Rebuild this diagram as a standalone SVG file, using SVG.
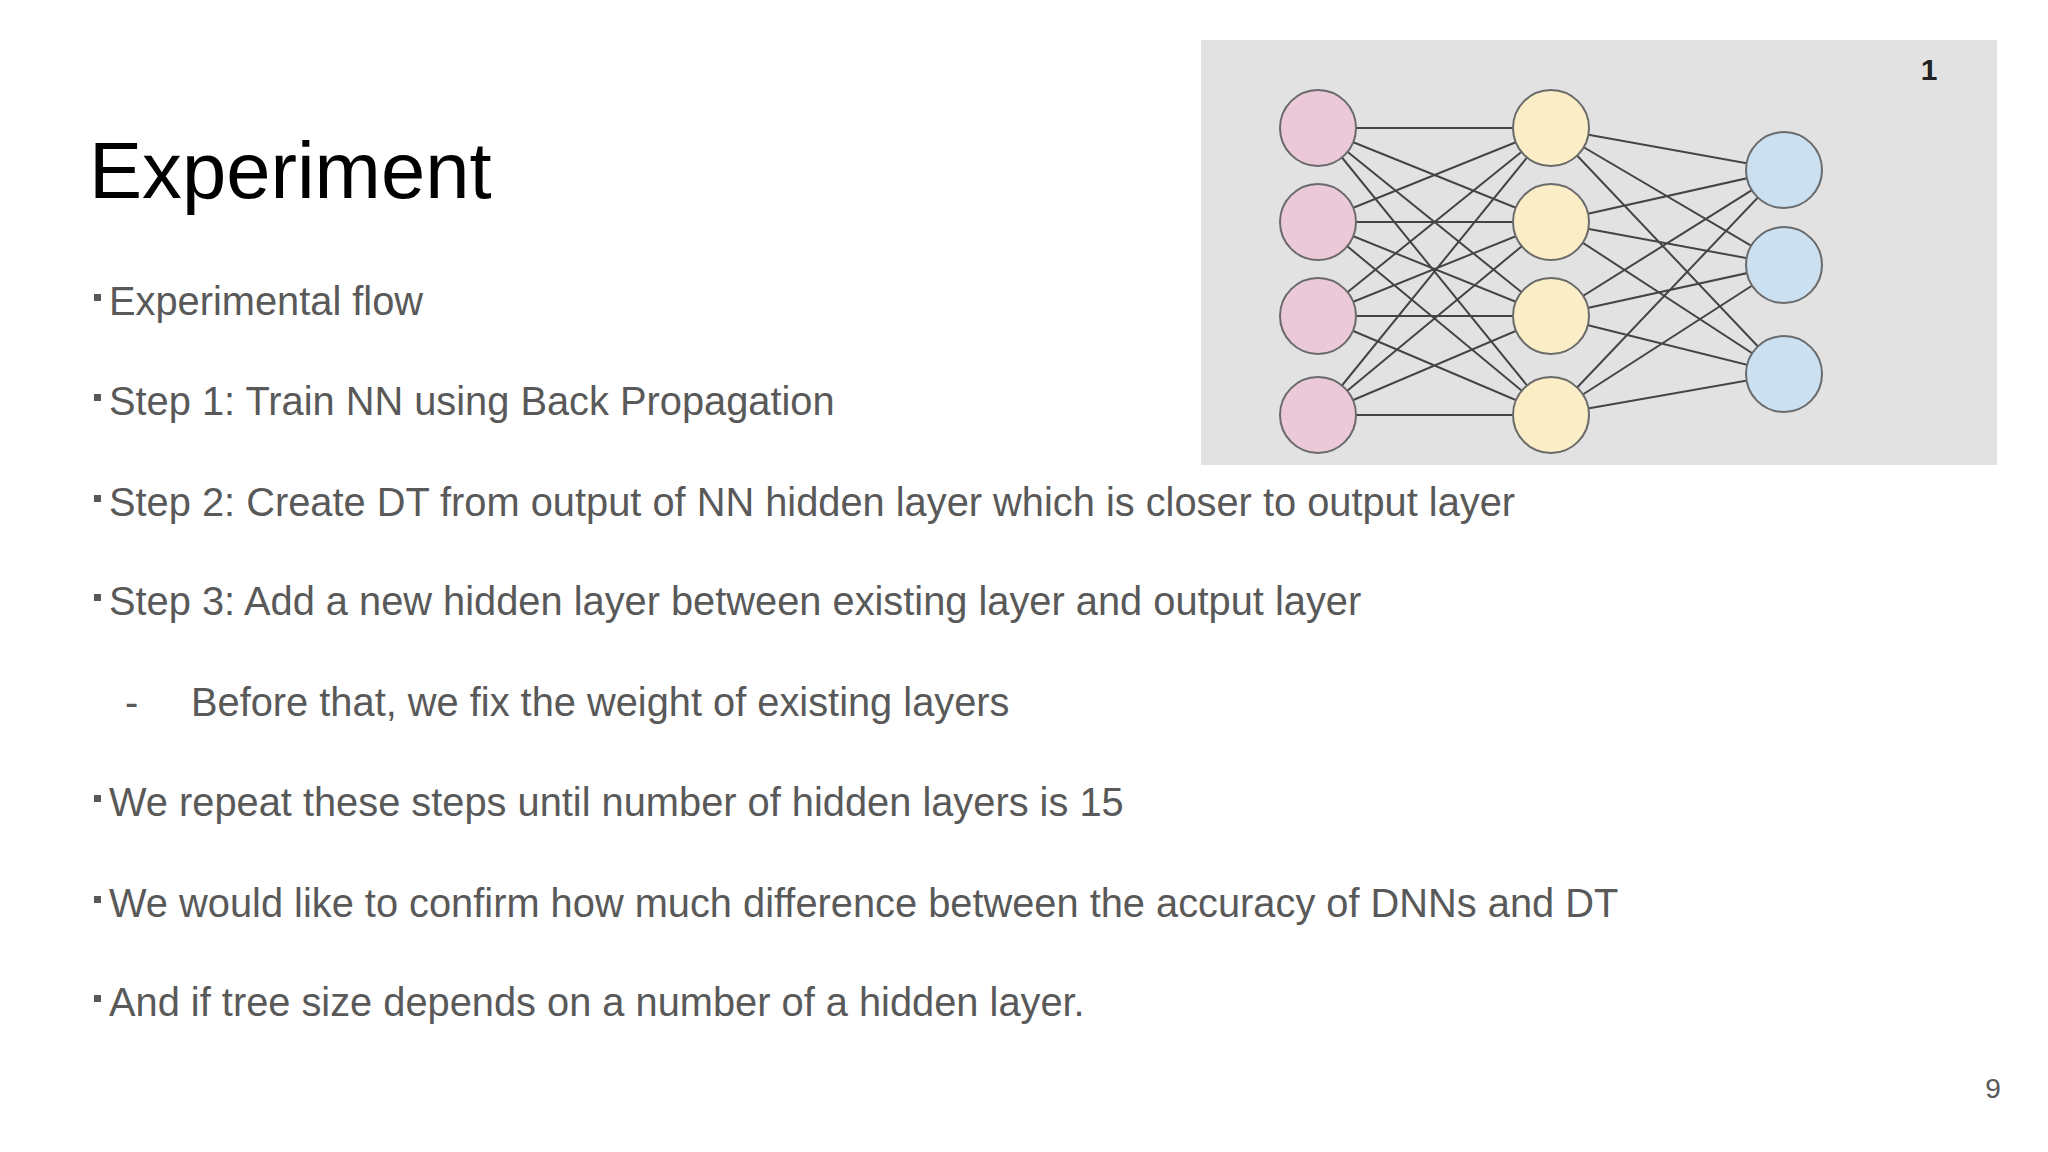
<svg xmlns="http://www.w3.org/2000/svg" width="2048" height="1152" viewBox="0 0 2048 1152">
<style>
.t{font-family:"Liberation Sans",Arial,sans-serif;font-size:39.8px;fill:#595959}
.b{fill:#595959}
.c{stroke:#6a6a6a;stroke-width:2}
.l{stroke:#444;stroke-width:2}
</style>
<rect width="2048" height="1152" fill="#fff"/>
<text x="89" y="198" font-family="Liberation Sans,Arial,sans-serif" font-size="79.6" fill="#000">Experiment</text>
<g id="bullets">
<rect class="b" x="94" y="294" width="7" height="7"/><text class="t" x="109" y="315">Experimental flow</text>
<rect class="b" x="94" y="394" width="7" height="7"/><text class="t" x="109" y="415">Step 1: Train NN using Back Propagation</text>
<rect class="b" x="94" y="495" width="7" height="7"/><text class="t" x="109" y="516">Step 2: Create DT from output of NN hidden layer which is closer to output layer</text>
<rect class="b" x="94" y="594" width="7" height="7"/><text class="t" x="109" y="615">Step 3: Add a new hidden layer between existing layer and output layer</text>
<text class="t" x="125" y="716">-</text><text class="t" x="191" y="716">Before that, we fix the weight of existing layers</text>
<rect class="b" x="94" y="795" width="7" height="7"/><text class="t" x="109" y="816">We repeat these steps until number of hidden layers is 15</text>
<rect class="b" x="94" y="896" width="7" height="7"/><text class="t" x="109" y="917">We would like to confirm how much difference between the accuracy of DNNs and DT</text>
<rect class="b" x="94" y="995" width="7" height="7"/><text class="t" x="109" y="1016">And if tree size depends on a number of a hidden layer.</text>
</g>
<text x="1993" y="1098" font-family="Liberation Sans,Arial,sans-serif" font-size="28" fill="#595959" text-anchor="middle">9</text>
<g id="image">
<rect x="1201" y="40" width="796" height="425" fill="#e2e2e2"/>
<text x="1929" y="80" font-family="Liberation Sans,Arial,sans-serif" font-size="30" font-weight="bold" fill="#222" text-anchor="middle">1</text>
<g id="connectors">
<path class="l" fill="none" d="M1318 128L1551 128M1318 128L1551 222M1318 128L1551 316M1318 128L1551 415M1318 222L1551 128M1318 222L1551 222M1318 222L1551 316M1318 222L1551 415M1318 316L1551 128M1318 316L1551 222M1318 316L1551 316M1318 316L1551 415M1318 415L1551 128M1318 415L1551 222M1318 415L1551 316M1318 415L1551 415M1551 128L1784 170M1551 128L1784 265M1551 128L1784 374M1551 222L1784 170M1551 222L1784 265M1551 222L1784 374M1551 316L1784 170M1551 316L1784 265M1551 316L1784 374M1551 415L1784 170M1551 415L1784 265M1551 415L1784 374"/>
</g>
<g id="input" fill="#ecc9d9" class="c">
<circle cx="1318" cy="128" r="38"/><circle cx="1318" cy="222" r="38"/><circle cx="1318" cy="316" r="38"/><circle cx="1318" cy="415" r="38"/>
</g>
<g id="hidden" fill="#fbeec6" class="c">
<circle cx="1551" cy="128" r="38"/><circle cx="1551" cy="222" r="38"/><circle cx="1551" cy="316" r="38"/><circle cx="1551" cy="415" r="38"/>
</g>
<g id="output" fill="#cbe0f1" class="c">
<circle cx="1784" cy="170" r="38"/><circle cx="1784" cy="265" r="38"/><circle cx="1784" cy="374" r="38"/>
</g>
</g>
</svg>
